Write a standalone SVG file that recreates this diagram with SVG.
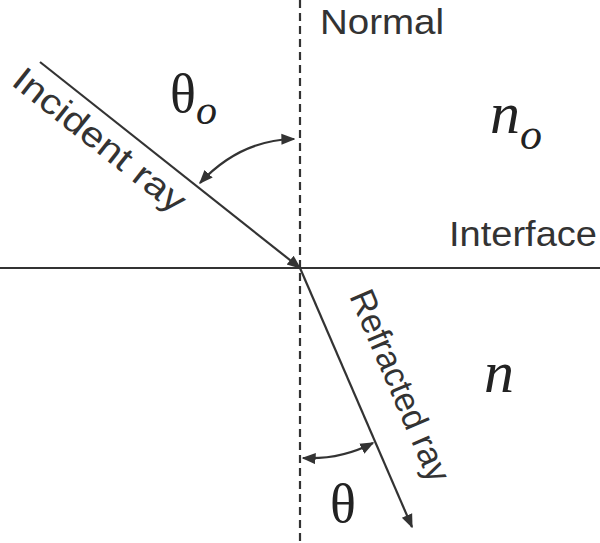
<svg xmlns="http://www.w3.org/2000/svg" width="600" height="543" viewBox="0 0 600 543">
<style>
.l{stroke:#333;stroke-width:2.2;fill:none}
.s{font-family:"Liberation Sans",Arial,sans-serif;fill:#333;font-size:35px}
.g{font-family:"Liberation Serif","Times New Roman",serif;fill:#222}
</style>
<defs>
<marker id="b" viewBox="0 0 10 10" refX="9" refY="5" markerWidth="14" markerHeight="14" orient="auto-start-reverse" markerUnits="userSpaceOnUse"><path d="M0,1 L10,5 L0,9 z" fill="#333"/></marker>
</defs>
<rect width="600" height="543" fill="#fff"/>
<g id="connectors">
<line class="l" x1="300" y1="0" x2="300" y2="543" stroke-dasharray="8,5"/>
<line class="l" x1="0" y1="268" x2="600" y2="268"/>
<line class="l" x1="40" y1="62" x2="300" y2="268" marker-end="url(#b)"/>
<line class="l" x1="300" y1="268" x2="412" y2="527" marker-end="url(#b)"/>
<path class="l" d="M294,139 Q240,140 200,183" marker-start="url(#b)" marker-end="url(#b)"/>
<path class="l" d="M303,458 Q340,460 373,443" marker-start="url(#b)" marker-end="url(#b)"/>
</g>
<g id="labels">
<text class="s" x="320" y="34" textLength="124" lengthAdjust="spacingAndGlyphs">Normal</text>
<text class="s" x="449" y="246" textLength="148" lengthAdjust="spacingAndGlyphs">Interface</text>
<text class="s" transform="translate(10,84) rotate(38.4)" textLength="210" lengthAdjust="spacingAndGlyphs">Incident ray</text>
<text class="s" transform="translate(349,296) rotate(66.8)" textLength="205" lengthAdjust="spacingAndGlyphs">Refracted ray</text>
<text class="g" x="170" y="112" font-size="54">θ<tspan font-style="italic" font-size="42" dy="12">o</tspan></text>
<text class="g" x="490" y="133" font-size="60" font-style="italic">n<tspan font-size="44" dy="16">o</tspan></text>
<text class="g" x="484" y="392" font-size="60" font-style="italic">n</text>
<text class="g" x="330" y="522" font-size="54">θ</text>
</g>
</svg>
